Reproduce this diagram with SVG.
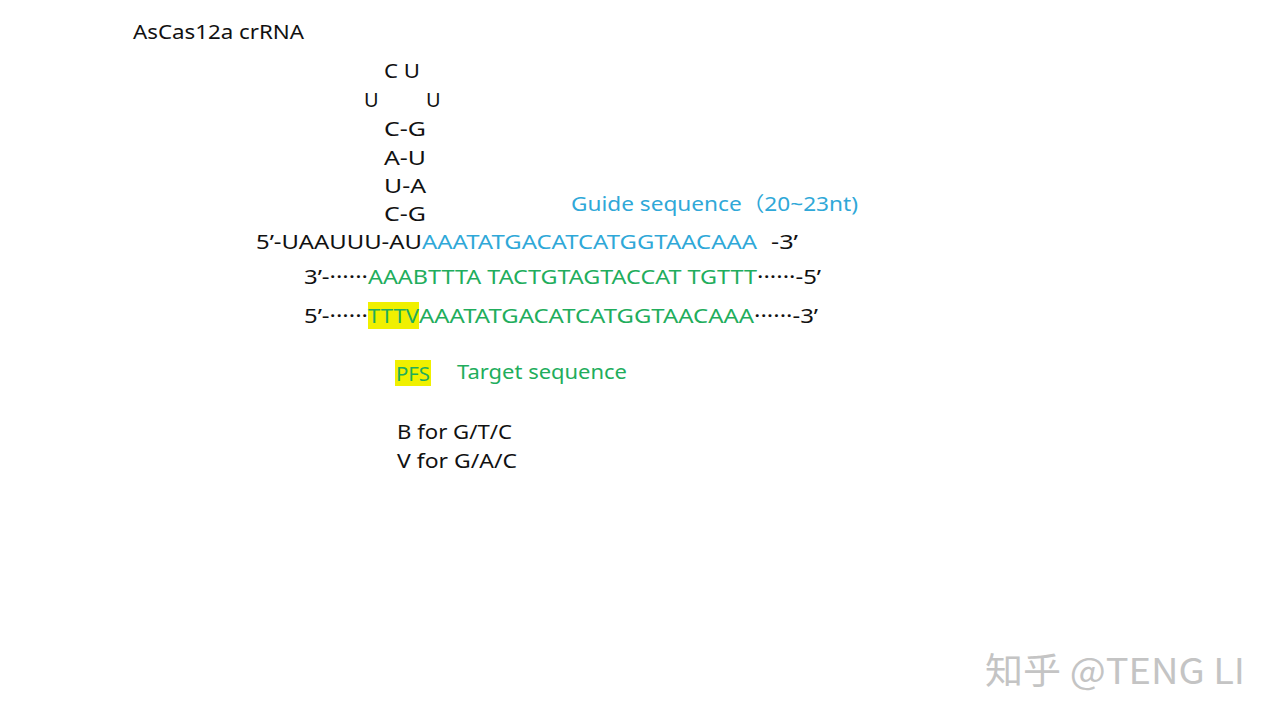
<svg xmlns="http://www.w3.org/2000/svg" width="1280" height="720" viewBox="0 0 1280 720">
<style>
text{font-family:"Noto Sans","Liberation Sans","Noto Sans CJK SC",sans-serif;font-size:20px;fill:#111}
.b{fill:#2fa8d8}
.g{fill:#21ad5c}
.hl{fill:#f0f000}
.wm{font-size:36px;fill:#c4c4c4;font-family:"Noto Sans CJK SC","Noto Sans",sans-serif}
</style>
<rect width="1280" height="720" fill="#fff"/>
<g id="title"><text x="133" y="39" textLength="171" lengthAdjust="spacingAndGlyphs">AsCas12a crRNA</text></g>
<g id="stemloop">
<text x="384" y="78" textLength="36" lengthAdjust="spacingAndGlyphs">C U</text>
<text x="364" y="107">U</text>
<text x="426" y="107">U</text>
<text x="384" y="136" textLength="42" lengthAdjust="spacingAndGlyphs">C-G</text>
<text x="384" y="165" textLength="42" lengthAdjust="spacingAndGlyphs">A-U</text>
<text x="384" y="193" textLength="42" lengthAdjust="spacingAndGlyphs">U-A</text>
<text x="384" y="221" textLength="42" lengthAdjust="spacingAndGlyphs">C-G</text>
</g>
<g id="guide-label"><text class="b" x="571" y="211" textLength="287" lengthAdjust="spacingAndGlyphs">Guide sequence（20~23nt)</text></g>
<g id="crRNA">
<text x="256" y="249" textLength="166" lengthAdjust="spacingAndGlyphs">5’-UAAUUU-AU</text>
<text class="b" x="422" y="249" textLength="335" lengthAdjust="spacingAndGlyphs">AAATATGACATCATGGTAACAAA</text>
<text x="771" y="249" textLength="27" lengthAdjust="spacingAndGlyphs">-3’</text>
</g>
<g id="target-strand">
<text x="304" y="284" textLength="64" lengthAdjust="spacingAndGlyphs">3’-······</text>
<text class="g" x="368" y="284" textLength="389" lengthAdjust="spacingAndGlyphs">AAABTTTA TACTGTAGTACCAT TGTTT</text>
<text x="757" y="284" textLength="64" lengthAdjust="spacingAndGlyphs">······-5’</text>
</g>
<g id="nontarget-strand">
<rect class="hl" x="368" y="302" width="51" height="27"/>
<text x="304" y="323" textLength="64" lengthAdjust="spacingAndGlyphs">5’-······</text>
<text class="g" x="368" y="323" textLength="51" lengthAdjust="spacingAndGlyphs">TTTV</text>
<text class="g" x="419" y="323" textLength="335" lengthAdjust="spacingAndGlyphs">AAATATGACATCATGGTAACAAA</text>
<text x="754" y="323" textLength="64" lengthAdjust="spacingAndGlyphs">······-3’</text>
</g>
<g id="pfs-label">
<rect class="hl" x="395" y="360" width="36" height="26"/>
<text class="g" x="396" y="381" textLength="34" lengthAdjust="spacingAndGlyphs">PFS</text>
</g>
<g id="target-label"><text class="g" x="457" y="379" textLength="170" lengthAdjust="spacingAndGlyphs">Target sequence</text></g>
<g id="legend">
<text x="397" y="439" textLength="115" lengthAdjust="spacingAndGlyphs">B for G/T/C</text>
<text x="397" y="468" textLength="120" lengthAdjust="spacingAndGlyphs">V for G/A/C</text>
</g>
<g id="watermark"><text class="wm" x="985" y="684" textLength="260" lengthAdjust="spacingAndGlyphs">知乎 @TENG LI</text></g>
<g id="connectors"></g>
</svg>
